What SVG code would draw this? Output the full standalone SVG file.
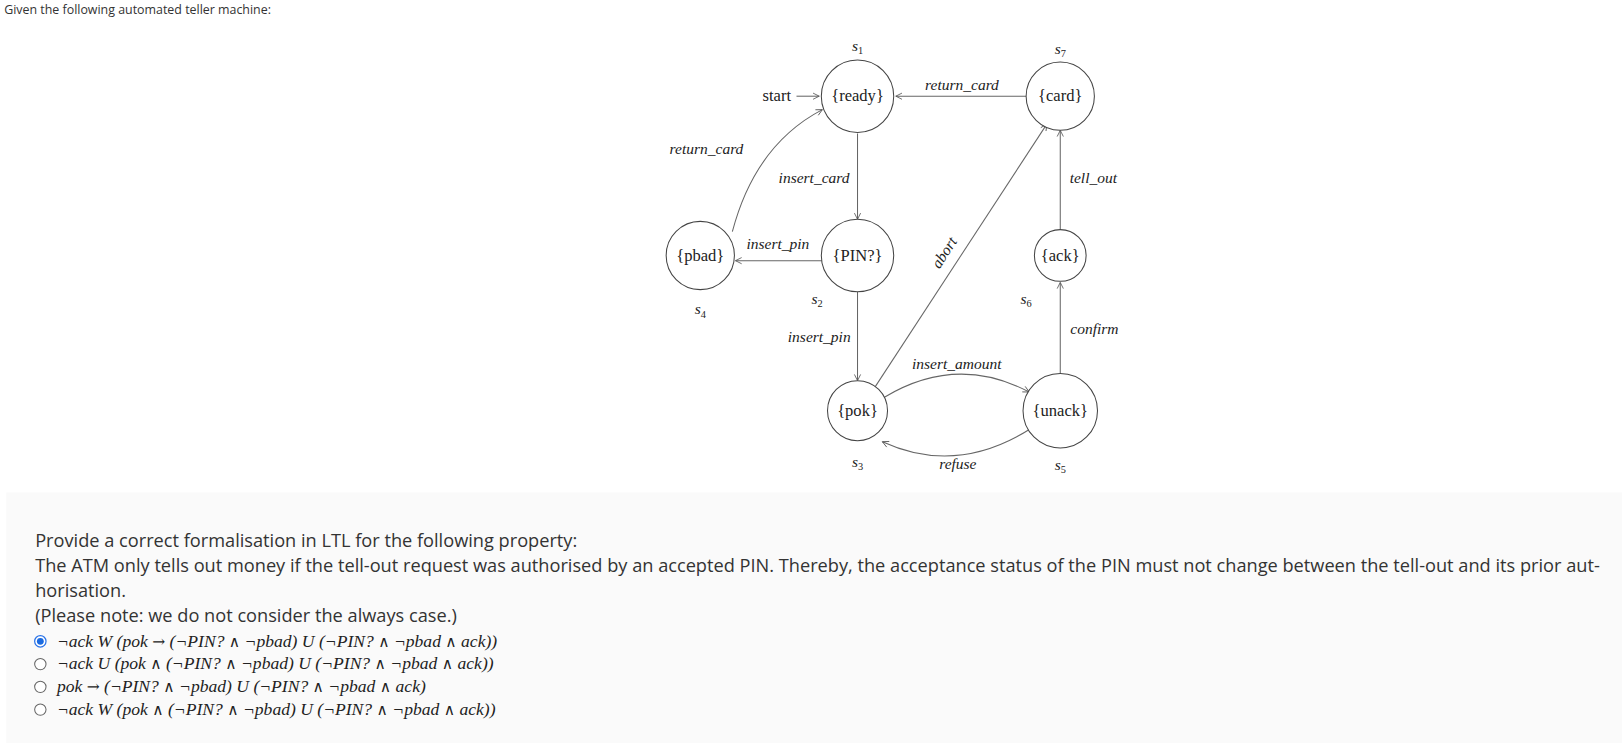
<svg xmlns="http://www.w3.org/2000/svg" width="1622" height="743" viewBox="0 0 1622 743">
<style>
.n{fill:#fff;stroke:#444;stroke-width:1}
.t{font-family:"Liberation Serif",serif;font-size:16px;fill:#222;text-anchor:middle}
.l{font-family:"Liberation Serif",serif;font-size:15px;font-style:italic;fill:#222;text-anchor:middle}
.e{fill:none;stroke:#666;stroke-width:1;marker-end:url(#a)}
.p{font-family:"Open Sans",sans-serif;font-size:17.6px;fill:#333}
.f{font-family:"Liberation Serif",serif;font-size:17px;font-style:italic;fill:#222}
.o{font-family:"DejaVu Serif",serif;font-style:normal;font-size:15px}
</style>
<defs><marker id="a" markerWidth="8" markerHeight="8" refX="7" refY="4" orient="auto" markerUnits="userSpaceOnUse"><path d="M1,1 L7,4 L1,7" fill="none" stroke="#555" stroke-width="0.8"/></marker></defs>
<rect width="1622" height="743" fill="#fff"/>
<g transform="scale(1.0344)">
<text x="4" y="14" font-family="Open Sans,sans-serif" font-size="12" fill="#333">Given the following automated teller machine:</text>
<g id="connectors">
<path class="e" d="M770,93 H792"/>
<text x="751" y="98" class="t">start</text>
<path class="e" d="M992,93 H866"/><text x="930" y="87" class="l">return_card</text>
<path class="e" d="M829,129 V212"/><text x="787" y="177" class="l">insert_card</text>
<path class="e" d="M795,252 H711"/><text x="752" y="241" class="l">insert_pin</text>
<path class="e" d="M708,224 Q730,140 795,106"/><text x="683" y="149" class="l">return_card</text>
<path class="e" d="M829,282 V368"/><text x="792" y="331" class="l">insert_pin</text>
<path class="e" d="M846,374 L1012,120"/><text x="917" y="247" class="l" transform="rotate(-57 917 247)">abort</text>
<path class="e" d="M1025,222 V126"/><text x="1057" y="177" class="l">tell_out</text>
<path class="e" d="M1025,361 V273"/><text x="1058" y="323" class="l">confirm</text>
<path class="e" d="M855,384 Q925,342 995,379"/><text x="925" y="357" class="l">insert_amount</text>
<path class="e" d="M997,414 Q925,460 853,427"/><text x="926" y="453" class="l">refuse</text>
</g>
<g id="s1"><circle class="n" cx="829" cy="93" r="35"/><text x="829" y="98" class="t">{ready}</text><text x="829" y="49" class="l">s<tspan font-size="10" dy="3" font-style="normal">1</tspan></text></g>
<g id="s7"><circle class="n" cx="1025" cy="93" r="33"/><text x="1025" y="98" class="t">{card}</text><text x="1025" y="52" class="l">s<tspan font-size="10" dy="3" font-style="normal">7</tspan></text></g>
<g id="s2"><circle class="n" cx="829" cy="247" r="35"/><text x="829" y="252" class="t">{PIN?}</text><text x="790" y="294" class="l">s<tspan font-size="10" dy="3" font-style="normal">2</tspan></text></g>
<g id="s4"><circle class="n" cx="677" cy="247" r="33"/><text x="677" y="252" class="t">{pbad}</text><text x="677" y="304" class="l">s<tspan font-size="10" dy="3" font-style="normal">4</tspan></text></g>
<g id="s6"><circle class="n" cx="1025" cy="247" r="25"/><text x="1025" y="252" class="t">{ack}</text><text x="992" y="294" class="l">s<tspan font-size="10" dy="3" font-style="normal">6</tspan></text></g>
<g id="s3"><circle class="n" cx="829" cy="397" r="29"/><text x="829" y="402" class="t">{pok}</text><text x="829" y="451" class="l">s<tspan font-size="10" dy="3" font-style="normal">3</tspan></text></g>
<g id="s5"><circle class="n" cx="1025" cy="397" r="36"/><text x="1025" y="402" class="t">{unack}</text><text x="1025" y="454" class="l">s<tspan font-size="10" dy="3" font-style="normal">5</tspan></text></g>
<rect x="6" y="476" width="1616" height="260" fill="#fafafa"/>
<text class="p" x="34" y="529">Provide a correct formalisation in LTL for the following property:</text>
<text class="p" x="34" y="553">The ATM only tells out money if the tell-out request was authorised by an accepted PIN. Thereby, the acceptance status of the PIN must not change between the tell-out and its prior aut-</text>
<text class="p" x="34" y="577">horisation.</text>
<text class="p" x="34" y="601">(Please note: we do not consider the always case.)</text>
<circle cx="39" cy="620" r="5.5" fill="#fff" stroke="#2a73e8" stroke-width="1.2"/><circle cx="39" cy="620" r="3.3" fill="#1a6ae0"/>
<circle cx="39" cy="642" r="5.5" fill="#fff" stroke="#666"/>
<circle cx="39" cy="664" r="5.5" fill="#fff" stroke="#666"/>
<circle cx="39" cy="686" r="5.5" fill="#fff" stroke="#666"/>
<text class="f" x="55" y="625">¬ack W (pok <tspan class="o">→</tspan> (¬PIN? <tspan class="o">∧</tspan> ¬pbad) U (¬PIN? <tspan class="o">∧</tspan> ¬pbad <tspan class="o">∧</tspan> ack))</text>
<text class="f" x="55" y="647">¬ack U (pok <tspan class="o">∧</tspan> (¬PIN? <tspan class="o">∧</tspan> ¬pbad) U (¬PIN? <tspan class="o">∧</tspan> ¬pbad <tspan class="o">∧</tspan> ack))</text>
<text class="f" x="55" y="669">pok <tspan class="o">→</tspan> (¬PIN? <tspan class="o">∧</tspan> ¬pbad) U (¬PIN? <tspan class="o">∧</tspan> ¬pbad <tspan class="o">∧</tspan> ack)</text>
<text class="f" x="55" y="691">¬ack W (pok <tspan class="o">∧</tspan> (¬PIN? <tspan class="o">∧</tspan> ¬pbad) U (¬PIN? <tspan class="o">∧</tspan> ¬pbad <tspan class="o">∧</tspan> ack))</text>
</g>
</svg>
